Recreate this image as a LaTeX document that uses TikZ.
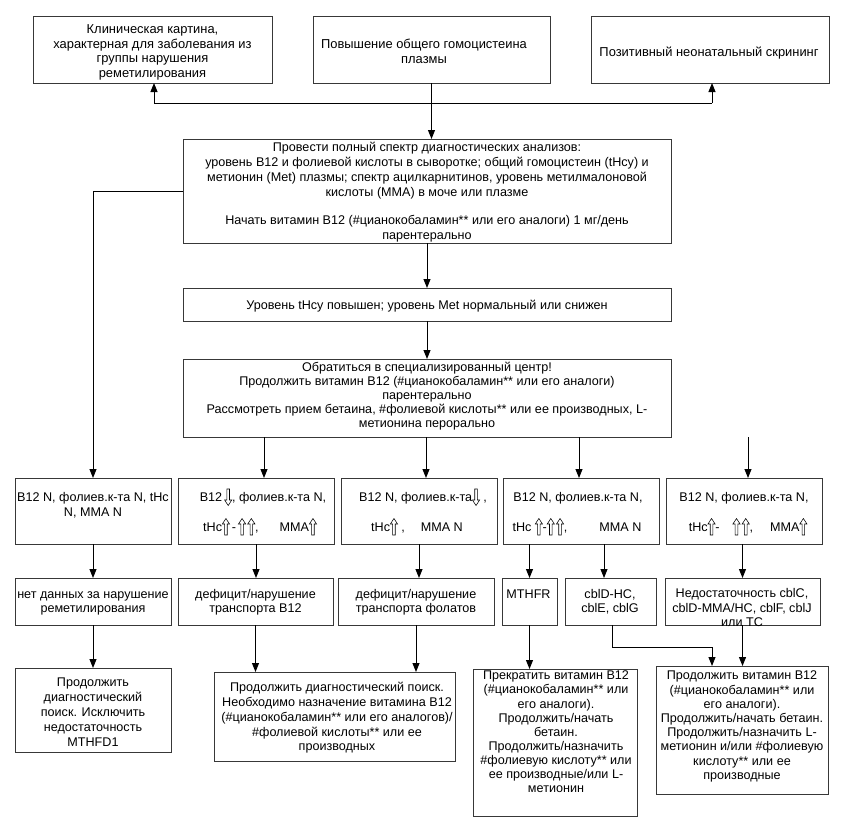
\documentclass[tikz,border=0pt]{standalone}
\usepackage{fontspec}
\setmainfont{Liberation Sans}
\usetikzlibrary{arrows.meta,calc}
\newcommand\myUp{\tikz[baseline=0pt,x=1pt,y=1pt]\draw[line width=0.55pt,line join=miter] (-1.3,-4)--(1.3,-4)--(1.3,7)--(3.6,7)--(0,12.5)--(-3.6,7)--(-1.3,7)--cycle;}
\newcommand\myDn{\tikz[baseline=0pt,x=1pt,y=1pt]\draw[line width=0.55pt,line join=miter] (-1.3,12.5)--(1.3,12.5)--(1.3,1.5)--(3.6,1.5)--(0,-4)--(-3.6,1.5)--(-1.3,1.5)--cycle;}
\newcommand\bx[5]{\node[boxst,minimum width={(#4-#2)*1pt},minimum height={(#5-#3)*1pt}] (#1) at ({(#2+#4)/2},{(#3+#5)/2}) {};}
\begin{document}
\begin{tikzpicture}[x=1pt,y=-1pt,
 boxst/.style={draw=black!78,line width=0.9pt,inner sep=0pt,outer sep=0pt,rectangle},
 txt/.style={inner sep=0pt,outer sep=0pt,align=center,font=\fontsize{12.6}{14.5}\selectfont},
 txtop/.style={txt,font=\fontsize{12.9}{14.6}\selectfont},
 ln/.style={line width=1pt,black},
 arr/.style={ln,-{Triangle[length=9pt,width=7pt]}}]
\fill[white] (0,0) rectangle (845,830);
\useasboundingbox (0,0) rectangle (845,830);
% ---- boxes
\bx{t1}{33}{16}{272}{83}
\bx{t2}{313}{16}{550}{83}
\bx{t3}{591}{16}{829}{83}
\bx{p1}{183}{139}{671}{243}
\bx{p2}{183}{288}{671}{321}
\bx{p3}{183}{359}{671}{437}
\bx{r5a}{15}{478}{171}{544}
\bx{r5b}{178}{478}{334}{544}
\bx{r5c}{341}{478}{497}{544}
\bx{r5d}{503}{478}{659}{544}
\bx{r5e}{666}{478}{822}{544}
\bx{r6a}{15}{578}{171}{625}
\bx{r6b}{178}{578}{333}{625}
\bx{r6c}{338}{578}{494}{625}
\bx{r6m}{502}{578}{557}{625}
\bx{r6d}{565}{578}{656}{625}
\bx{r6e}{665}{578}{820}{625}
\bx{r7a}{15}{668}{171}{752}
\bx{r7b}{214}{672}{455}{761}
\bx{r7m}{473}{669}{637}{816}
\bx{r7e}{656}{666}{828}{794}
% ---- texts
\node[txtop,anchor=north] (t1x) at (152.5,23.5) {\strut Клиническая картина,\\характерная для заболевания из\\группы нарушения\\реметилирования};
\node[txtop,anchor=north] (t2x) at (424,37.8) {\strut Повышение общего гомоцистеина\\[1pt]плазмы};
\node[txtop,anchor=base] (t3x) at (709,56.5) {Позитивный неонатальный скрининг};
\node[txt,anchor=north,font=\fontsize{12.6}{15}\selectfont] (p1x) at (427,141) {\strut Провести полный спектр диагностических анализов:\\уровень B12 и фолиевой кислоты в сыворотке; общий гомоцистеин (tHcy) и\\метионин (Met) плазмы; спектр ацилкарнитинов, уровень метилмалоновой\\кислоты (MMA) в моче или плазме\\[13pt]Начать витамин B12 (\#цианокобаламин** или его аналоги) 1 мг/день\\парентерально};
\node[txt,anchor=base] (p2x) at (427,309.5) {Уровень tHcy повышен; уровень Met нормальный или снижен};
\node[txt,anchor=north,font=\fontsize{12.6}{14}\selectfont] (p3x) at (427,361.8) {\strut Обратиться в специализированный центр!\\Продолжить витамин B12 (\#цианокобаламин** или его аналоги)\\парентерально\\Рассмотреть прием бетаина, \#фолиевой кислоты** или ее производных, L-\\метионина перорально};
% row 5
\node[txt,anchor=north] (r5ax) at (93,491.5) {\strut B12 N, фолиев.к-та N, tHc\\N, MMA N};
\node[txt,anchor=base] (r5b1) at (263,501.5) {B12\,\myDn, фолиев.к-та N,};
\node[txt,anchor=base] (r5b2) at (260,531) {tHc\myUp\,-\,\myUp\hspace{1.5pt}\myUp,\hspace{21pt}MMA\myUp};
\node[txt,anchor=base] (r5c1) at (423,501.5) {B12 N, фолиев.к-та\myDn\ ,};
\node[txt,anchor=base] (r5c2) at (417,531) {tHc\myUp\ ,\hspace{16pt}MMA N};
\node[txt,anchor=base] (r5d1) at (578,501.5) {B12 N, фолиев.к-та N,};
\node[txt,anchor=base] (r5d2) at (577,531) {tHc \myUp-\myUp\hspace{1.5pt}\myUp,\hspace{32pt}MMA N};
\node[txt,anchor=base] (r5e1) at (744,501.5) {B12 N, фолиев.к-та N,};
\node[txt,anchor=base] (r5e2) at (748,531) {tHc\myUp-\hspace{13pt}\myUp\hspace{1.5pt}\myUp,\hspace{17pt}MMA\myUp};
% row 6
\node[txt,anchor=north,font=\fontsize{12.6}{14}\selectfont] (r6ax) at (93,588.2) {\strut нет данных за нарушение\\реметилирования};
\node[txt,anchor=north,font=\fontsize{12.6}{14}\selectfont] (r6bx) at (255.5,588.2) {\strut дефицит/нарушение\\транспорта B12};
\node[txt,anchor=north,font=\fontsize{12.6}{14}\selectfont] (r6cx) at (416,588.2) {\strut дефицит/нарушение\\транспорта фолатов};
\node[txt,anchor=base] (r6mx) at (528.5,598) {MTHFR};
\node[txt,anchor=north,font=\fontsize{12.6}{14}\selectfont] (r6dx) at (610,588.2) {\strut cblD-HC,\\cblE, cblG};
\node[txt,anchor=north] (r6ex) at (742,587.8) {\strut Недостаточность cblC,\\cblD-MMA/HC, cblF, cblJ\\или TC};
% row 7
\node[txt,anchor=north,font=\fontsize{12.6}{15}\selectfont] (r7ax) at (93,675.5) {\strut Продолжить\\диагностический\\поиск. Исключить\\недостаточность\\MTHFD1};
\node[txt,anchor=north,font=\fontsize{12.6}{14.75}\selectfont] (r7bx) at (337,681.5) {\strut Продолжить диагностический поиск.\\Необходимо назначение витамина B12\\(\#цианокобаламин** или его аналогов)/\\\#фолиевой кислоты** или ее\\производных};
\node[txt,anchor=north,font=\fontsize{12.6}{14.1}\selectfont] (r7mx) at (556,670) {\strut Прекратить витамин B12\\(\#цианокобаламин** или\\его аналоги).\\Продолжить/начать\\бетаин.\\Продолжить/назначить\\\#фолиевую кислоту** или\\ее производные/или L-\\метионин};
\node[txt,anchor=north,font=\fontsize{12.6}{14.2}\selectfont] (r7ex) at (742,670) {\strut Продолжить витамин B12\\(\#цианокобаламин** или\\его аналоги).\\Продолжить/начать бетаин.\\Продолжить/назначить L-\\метионин и/или \#фолиевую\\кислоту** или ее\\производные};
% ---- connectors
\coordinate (jL) at (154,103);
\coordinate (jR) at (712,103);
\coordinate (xB) at (264,0);
\coordinate (xC) at (426,0);
\coordinate (xD) at (579,0);
\coordinate (xE) at (748,0);
\coordinate (xD2) at (604,0);
\coordinate (xD3) at (612,0);
\coordinate (jD) at (712,647);
\draw[ln] (jL) -- (jR);
\draw[arr] (jL) -- (jL |- t1.south);
\draw[arr] (jR) -- (jR |- t3.south);
\draw[arr] (t2.south) -- (t2.south |- p1.north);
\draw[arr] (p1.south) -- (p2.north);
\draw[arr] (p2.south) -- (p3.north);
\draw[arr] (p1.west) -| (r5a.north);
\draw[arr] (p3.south -| xB) -- (r5b.north -| xB);
\draw[arr] (p3.south -| xC) -- (r5c.north -| xC);
\draw[arr] (p3.south -| xD) -- (r5d.north -| xD);
\draw[arr] (p3.south -| xE) -- (r5e.north -| xE);
\draw[arr] (r5a.south) -- (r6a.north);
\draw[arr] (r5b.south) -- (r5b.south |- r6b.north);
\draw[arr] (r5c.south) -- (r5c.south |- r6c.north);
\draw[arr] (r6m.north |- r5d.south) -- (r6m.north);
\draw[arr] (r5d.south -| xD2) -- (r6d.north -| xD2);
\draw[arr] (r6e.north |- r5e.south) -- (r6e.north);
\draw[arr] (r6a.south) -- (r7a.north);
\draw[arr] (r6b.south) -- (r6b.south |- r7b.north);
\draw[arr] (r6c.south) -- (r6c.south |- r7b.north);
\draw[arr] (r6m.south) -- (r6m.south |- r7m.north);
\draw[arr] (r6e.south) -- (r6e.south |- r7e.north);
\draw[arr] (r6d.south -| xD3) |- (jD) -- (jD |- r7e.north);
\end{tikzpicture}
\end{document}
